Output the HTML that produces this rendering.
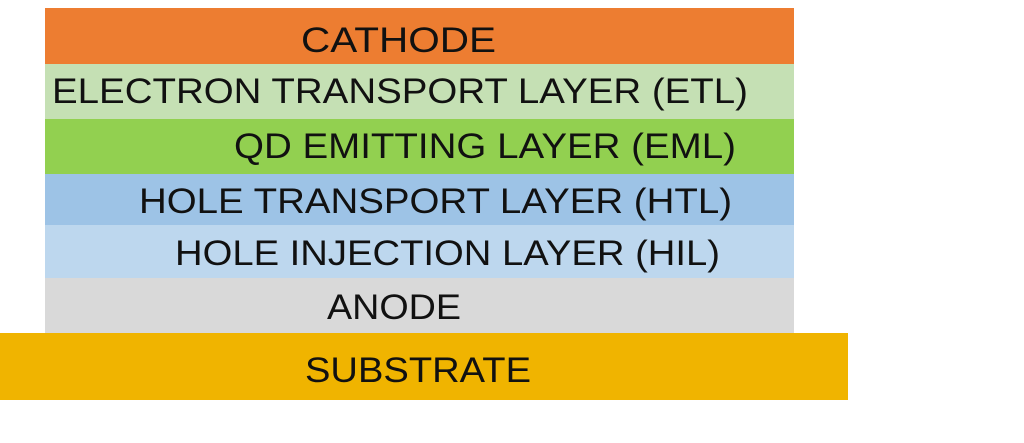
<!DOCTYPE html>
<html><head><style>html,body{margin:0;padding:0;background:#fff;width:1024px;height:443px;overflow:hidden}</style></head>
<body>
<svg width="1024" height="443" xmlns="http://www.w3.org/2000/svg" font-family="Liberation Sans, Arial, sans-serif" font-size="35" fill="#111">
<rect x="45" y="8" width="749" height="56" fill="#ED7D31"/>
<rect x="45" y="64" width="749" height="55" fill="#C5E0B4"/>
<rect x="45" y="119" width="749" height="55" fill="#92D050"/>
<rect x="45" y="174" width="749" height="51" fill="#9DC3E6"/>
<rect x="45" y="225" width="749" height="53" fill="#BDD7EE"/>
<rect x="45" y="278" width="749" height="55" fill="#D9D9D9"/>
<rect x="0" y="333" width="848" height="67" fill="#F0B400"/>
<text x="301" y="52" textLength="195" lengthAdjust="spacingAndGlyphs">CATHODE</text>
<text x="52" y="103" textLength="696" lengthAdjust="spacingAndGlyphs">ELECTRON TRANSPORT LAYER (ETL)</text>
<text x="234" y="158" textLength="502" lengthAdjust="spacingAndGlyphs">QD EMITTING LAYER (EML)</text>
<text x="139" y="213" textLength="593" lengthAdjust="spacingAndGlyphs">HOLE TRANSPORT LAYER (HTL)</text>
<text x="175" y="265" textLength="545" lengthAdjust="spacingAndGlyphs">HOLE INJECTION LAYER (HIL)</text>
<text x="327" y="319" textLength="134" lengthAdjust="spacingAndGlyphs">ANODE</text>
<text x="305" y="382" textLength="226" lengthAdjust="spacingAndGlyphs">SUBSTRATE</text>
</svg>
</body></html>
